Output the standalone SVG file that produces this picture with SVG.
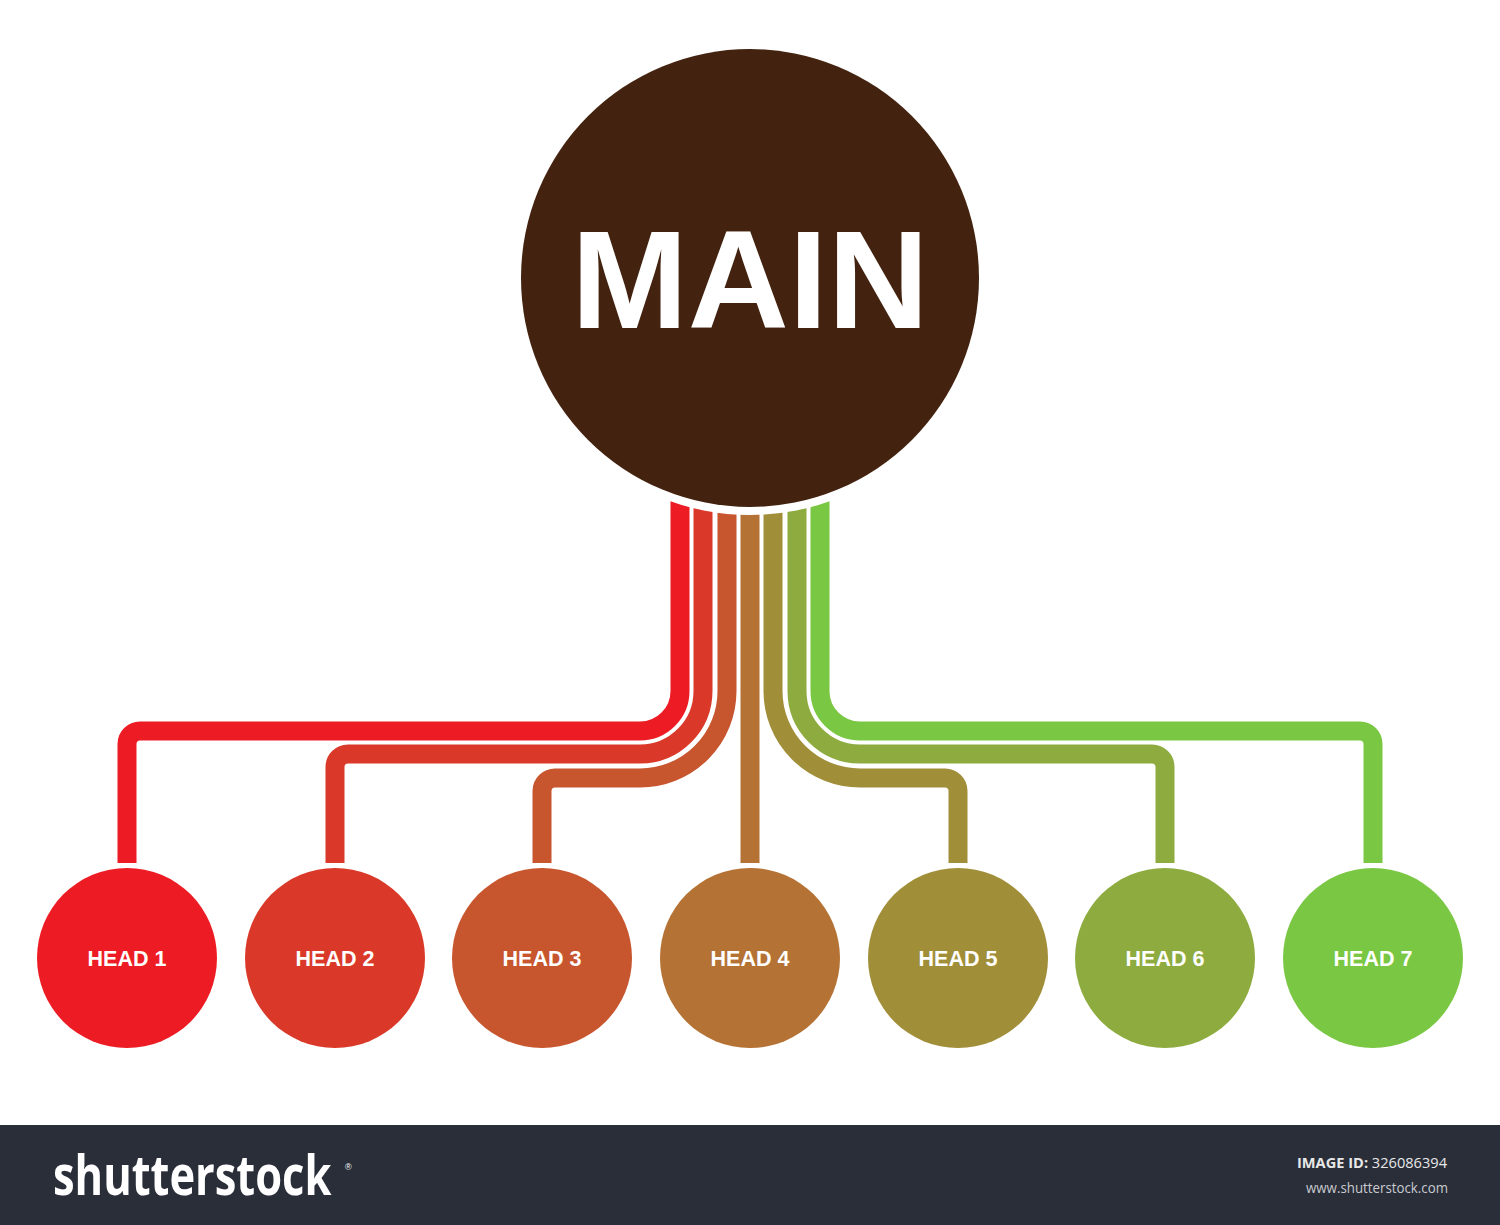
<svg xmlns="http://www.w3.org/2000/svg" width="1500" height="1225" viewBox="0 0 1500 1225">
<style>
.conn{fill:none;stroke-width:19;stroke-linecap:butt;stroke-linejoin:round}
.hl{font-family:"Liberation Sans",Arial,sans-serif;font-weight:bold;font-size:21.5px;fill:#ffffff;text-anchor:middle}
</style>
<rect x="0" y="0" width="1500" height="1225" fill="#ffffff"/>
<g id="connectors">
<path class="conn" stroke="#ED1C24" d="M680,480 V691 A40,40 0 0 1 640,731 H140 A13,13 0 0 0 127,744 V863"/>
<path class="conn" stroke="#DA3929" d="M703,480 V691 A63,63 0 0 1 640,754 H348 A13,13 0 0 0 335,767 V863"/>
<path class="conn" stroke="#C7552E" d="M727,480 V691 A87,87 0 0 1 640,778 H555 A13,13 0 0 0 542,791 V863"/>
<path class="conn" stroke="#B47234" d="M750,480 V863"/>
<path class="conn" stroke="#A08E39" d="M773,480 V691 A87,87 0 0 0 860,778 H945 A13,13 0 0 1 958,791 V863"/>
<path class="conn" stroke="#8DAB3E" d="M797,480 V691 A63,63 0 0 0 860,754 H1152 A13,13 0 0 1 1165,767 V863"/>
<path class="conn" stroke="#7AC743" d="M820,480 V691 A40,40 0 0 0 860,731 H1360 A13,13 0 0 1 1373,744 V863"/>
</g>
<g id="main">
<circle cx="750" cy="278" r="237" fill="#ffffff"/>
<circle cx="750" cy="278" r="229" fill="#43230F"/>
<text x="750" y="328" font-family="'Liberation Sans',Arial,sans-serif" font-weight="bold" font-size="140" fill="#ffffff" text-anchor="middle">MAIN</text>
</g>
<g id="head1"><circle cx="127" cy="958" r="90" fill="#ED1C24"/><text class="hl" x="127" y="966">HEAD 1</text></g>
<g id="head2"><circle cx="335" cy="958" r="90" fill="#DA3929"/><text class="hl" x="335" y="966">HEAD 2</text></g>
<g id="head3"><circle cx="542" cy="958" r="90" fill="#C7552E"/><text class="hl" x="542" y="966">HEAD 3</text></g>
<g id="head4"><circle cx="750" cy="958" r="90" fill="#B47234"/><text class="hl" x="750" y="966">HEAD 4</text></g>
<g id="head5"><circle cx="958" cy="958" r="90" fill="#A08E39"/><text class="hl" x="958" y="966">HEAD 5</text></g>
<g id="head6"><circle cx="1165" cy="958" r="90" fill="#8DAB3E"/><text class="hl" x="1165" y="966">HEAD 6</text></g>
<g id="head7"><circle cx="1373" cy="958" r="90" fill="#7AC743"/><text class="hl" x="1373" y="966">HEAD 7</text></g>
<g id="footer">
<rect x="0" y="1125" width="1500" height="100" fill="#292E39"/>
<text transform="translate(53,1195) scale(0.79,1)" x="0" y="0" font-family="'Open Sans','Liberation Sans',sans-serif" font-weight="bold" font-size="55" fill="#ffffff">shutterstock</text>
<text x="345" y="1170" font-family="'Liberation Sans',sans-serif" font-size="9" fill="#ffffff">®</text>
<text x="1297" y="1168" font-family="'Open Sans','Liberation Sans',sans-serif" font-size="15" fill="#e8e8e8" textLength="150" lengthAdjust="spacingAndGlyphs"><tspan font-weight="bold">IMAGE ID:</tspan> 326086394</text>
<text x="1306" y="1193" font-family="'Open Sans','Liberation Sans',sans-serif" font-size="14" fill="#c9cbcf" textLength="142" lengthAdjust="spacingAndGlyphs">www.shutterstock.com</text>
</g>
</svg>
